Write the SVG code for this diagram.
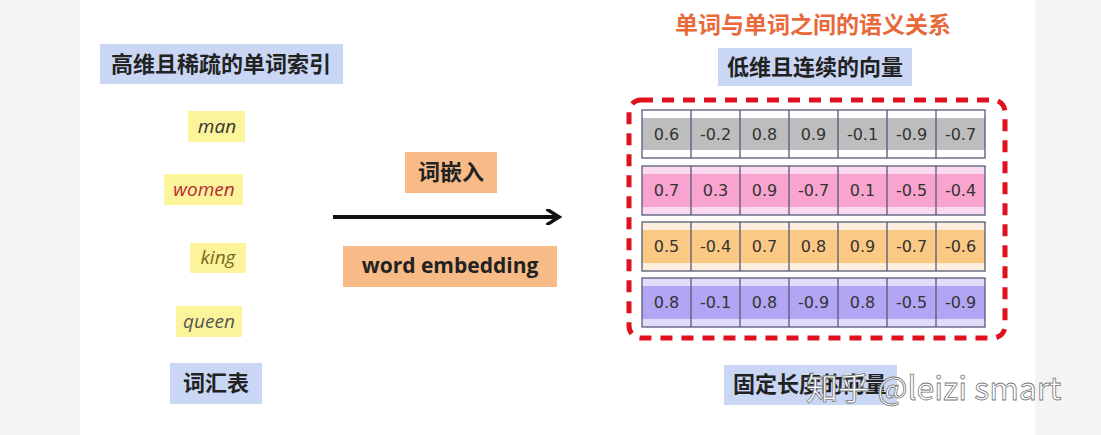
<svg xmlns="http://www.w3.org/2000/svg" width="1101" height="435" viewBox="0 0 1101 435">
<defs>
<style>
.zh{font-family:"Noto Sans CJK SC",sans-serif;font-weight:bold;font-size:22px;fill:#222}
.w{font-family:"Open Sans","Noto Sans",sans-serif;font-style:italic;font-size:19px}
.n{font-family:"DejaVu Sans",sans-serif;font-size:16px;fill:#333;text-anchor:middle}
.blue{fill:#c9d7f5}.yel{fill:#fbf49a}.org{fill:#f8bb88}
.cell{fill:none;stroke:#555a78;stroke-width:1.3}
</style>
<marker id="ah" viewBox="0 0 10 10" refX="6" refY="5" markerWidth="4" markerHeight="4" orient="auto"><path d="M0,0 L8,5 L0,10" fill="none" stroke="#111" stroke-width="2.2"/></marker>
</defs>
<rect width="1101" height="435" fill="#f4f4f4"/>
<rect x="80" y="0" width="955" height="435" fill="#fff"/>
<g id="left-title"><rect class="blue" x="100" y="44" width="243" height="40"/><text class="zh" x="221" y="72" text-anchor="middle">高维且稀疏的单词索引</text></g>
<g id="man"><rect class="yel" x="188" y="111" width="57" height="31"/><text class="w" x="217" y="133" text-anchor="middle" fill="#333">man</text></g>
<g id="women"><rect class="yel" x="164" y="174" width="79" height="31"/><text class="w" x="204" y="196" text-anchor="middle" fill="#b8283a">women</text></g>
<g id="king"><rect class="yel" x="190" y="243" width="56" height="30"/><text class="w" x="218" y="264" text-anchor="middle" fill="#7a6620">king</text></g>
<g id="queen"><rect class="yel" x="176" y="306" width="66" height="31"/><text class="w" x="209" y="328" text-anchor="middle" fill="#555">queen</text></g>
<g id="vocab"><rect class="blue" x="170" y="363" width="92" height="41"/><text class="zh" x="216" y="391" text-anchor="middle">词汇表</text></g>
<g id="connectors"><line x1="333" y1="217" x2="556" y2="217" stroke="#111" stroke-width="4" marker-end="url(#ah)"/></g>
<g id="embed-zh"><rect class="org" x="405" y="152" width="92" height="41"/><text class="zh" x="451" y="180" text-anchor="middle">词嵌入</text></g>
<g id="embed-en"><rect class="org" x="343" y="246" width="214" height="41"/><text x="450" y="273" text-anchor="middle" font-family="Open Sans,sans-serif" font-weight="bold" font-size="21" fill="#222">word embedding</text></g>
<g id="relation"><text x="813" y="33" text-anchor="middle" font-family="Noto Sans CJK SC,sans-serif" font-weight="bold" font-size="23" fill="#e8683a">单词与单词之间的语义关系</text></g>
<g id="right-title"><rect class="blue" x="718" y="48" width="194" height="38"/><text class="zh" x="815" y="75" text-anchor="middle">低维且连续的向量</text></g>
<g id="fixed"><rect class="blue" x="724" y="365" width="173" height="40"/><text class="zh" x="810" y="392" text-anchor="middle">固定长度的向量</text></g>
<g id="matrix">
<rect x="629" y="100" width="376" height="238" rx="12" fill="none" stroke="#e0101e" stroke-width="5" stroke-dasharray="12,9"/>
<g id="row1"><rect x="642" y="110" width="343" height="48" fill="#fff"/><rect x="642" y="118" width="343" height="32" fill="#bdbdbd"/>
<text class="n"><tspan x="666.5" y="140">0.6</tspan><tspan x="715.5" y="140">-0.2</tspan><tspan x="764.5" y="140">0.8</tspan><tspan x="813.5" y="140">0.9</tspan><tspan x="862.5" y="140">-0.1</tspan><tspan x="911.5" y="140">-0.9</tspan><tspan x="960.5" y="140">-0.7</tspan></text></g>
<g id="row2"><rect x="642" y="166" width="343" height="49" fill="#fbd9ee"/><rect x="642" y="174" width="343" height="33" fill="#f8a4cf"/>
<text class="n"><tspan x="666.5" y="196">0.7</tspan><tspan x="715.5" y="196">0.3</tspan><tspan x="764.5" y="196">0.9</tspan><tspan x="813.5" y="196">-0.7</tspan><tspan x="862.5" y="196">0.1</tspan><tspan x="911.5" y="196">-0.5</tspan><tspan x="960.5" y="196">-0.4</tspan></text></g>
<g id="row3"><rect x="642" y="222" width="343" height="49" fill="#fdeede"/><rect x="642" y="230" width="343" height="33" fill="#fbc983"/>
<text class="n"><tspan x="666.5" y="252">0.5</tspan><tspan x="715.5" y="252">-0.4</tspan><tspan x="764.5" y="252">0.7</tspan><tspan x="813.5" y="252">0.8</tspan><tspan x="862.5" y="252">0.9</tspan><tspan x="911.5" y="252">-0.7</tspan><tspan x="960.5" y="252">-0.6</tspan></text></g>
<g id="row4"><rect x="642" y="278" width="343" height="49" fill="#e2dcfb"/><rect x="642" y="286" width="343" height="33" fill="#b2a5f4"/>
<text class="n"><tspan x="666.5" y="308">0.8</tspan><tspan x="715.5" y="308">-0.1</tspan><tspan x="764.5" y="308">0.8</tspan><tspan x="813.5" y="308">-0.9</tspan><tspan x="862.5" y="308">0.8</tspan><tspan x="911.5" y="308">-0.5</tspan><tspan x="960.5" y="308">-0.9</tspan></text></g>
<g id="grid">
<rect class="cell" x="642" y="110" width="343" height="48"/><rect class="cell" x="642" y="166" width="343" height="49"/><rect class="cell" x="642" y="222" width="343" height="49"/><rect class="cell" x="642" y="278" width="343" height="49"/>
<path class="cell" d="M691,110V158M740,110V158M789,110V158M838,110V158M887,110V158M936,110V158M691,166V215M740,166V215M789,166V215M838,166V215M887,166V215M936,166V215M691,222V271M740,222V271M789,222V271M838,222V271M887,222V271M936,222V271M691,278V327M740,278V327M789,278V327M838,278V327M887,278V327M936,278V327"/>
</g>
</g>
<text x="806" y="400" font-family="Noto Sans CJK SC,sans-serif" font-size="32" fill="#fff" stroke="#777" stroke-width="0.8">知乎 @leizi smart</text>
</svg>
